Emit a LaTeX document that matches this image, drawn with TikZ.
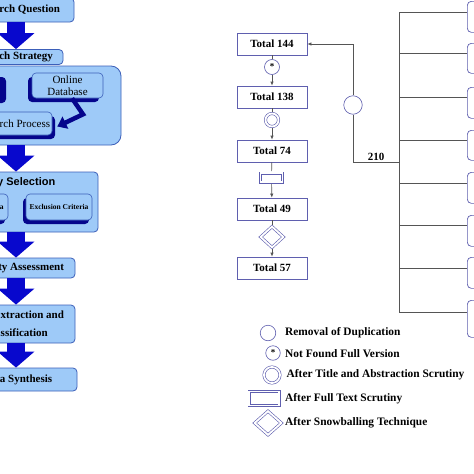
\documentclass[tikz,border=0pt]{standalone}
\usepackage{fontspec}
\setmainfont{Liberation Serif}
\newfontfamily\sansfont{Liberation Sans}
\usetikzlibrary{shapes.geometric, arrows.meta, shadows}
\definecolor{boxfill}{RGB}{158,202,248}
\definecolor{boxline}{RGB}{60,95,185}
\definecolor{fatblue}{RGB}{8,8,205}
\definecolor{darkshade}{RGB}{5,5,140}
\definecolor{flowline}{RGB}{95,95,175}
\definecolor{wire}{RGB}{85,85,85}

\begin{document}
\begin{tikzpicture}[
  x=1pt, y=-1pt,
  every node/.style={inner sep=0pt},
  stage/.style={draw=boxline, fill=boxfill, line width=0.8pt, rounded corners=4pt, align=center, font=\bfseries\fontsize{11}{18}\selectfont},
  subbox/.style={draw=boxline, fill=boxfill, line width=0.6pt, rounded corners=4pt, align=center, font=\fontsize{11}{12}\selectfont},
  boxshadow/.style={general shadow={fill=darkshade, shadow xshift=#1, shadow yshift=-4pt}},
  fatarrow/.style={fatblue, line width=18pt, -{Triangle[length=16pt,width=36pt]}},
  totalbox/.style={draw=flowline, fill=white, line width=0.7pt, minimum width=70pt, minimum height=22pt, font=\bfseries\fontsize{11}{13}\selectfont},
  flowsym/.style={draw=flowline, fill=white, line width=0.6pt},
  twin/.style={flowsym, double=white, double distance=1.8pt},
  refbox/.style={draw=flowline, line width=0.7pt, rounded corners=4pt, anchor=north west, minimum width=60pt},
  wire/.style={draw=wire, line width=0.7pt},
  flowtip/.style={-{Latex[length=4pt,width=3.5pt]}},
  legendtext/.style={anchor=west, font=\bfseries\fontsize{11.4}{13}\selectfont}
]
\useasboundingbox (0,0) rectangle (474,474);
\clip (0,0) rectangle (474,474);
\fill[white] (0,0) rectangle (474,474);

% review steps on the left
\node[stage, minimum width=116pt, minimum height=24pt] (question) at (16,10) {Research Question};
\node[stage, minimum width=95pt, minimum height=15pt] (strategy) at (15.5,57) {Search Strategy};
\node[stage, rounded corners=10pt, minimum width=231pt, minimum height=79pt] (area) at (5.5,105.5) {};
\node[subbox, boxshadow=7pt, minimum width=61pt, minimum height=26pt] (manual) at (-31.5,86) {};
\node[subbox, boxshadow=-4pt, minimum width=71pt, minimum height=25pt] (online) at (67.5,85.5) {Online\\Database};
\node[subbox, boxshadow=3pt, minimum width=70pt, minimum height=23pt] (process) at (17,123.5) {Search Process};
\draw[darkshade, line width=4.5pt, -{Triangle[length=9pt,width=13pt]}]
  ([xshift=4.5pt]online.south) -- ++(11,16) -- ([xshift=5pt,yshift=-3pt]process.east);

\node[stage, minimum width=168pt, minimum height=60pt] (selection) at (14,202) {};
\node[font=\sansfont\bfseries\fontsize{11}{13}\selectfont] (seltitle) at (14,183) {Study Selection};
\node[subbox, boxshadow=-3pt, font=\bfseries\fontsize{7.5}{9}\selectfont, minimum width=66pt, minimum height=26pt] (incl) at (-25,207) {Inclusion Criteria};
\node[subbox, boxshadow=-3pt, font=\bfseries\fontsize{7.5}{9}\selectfont, minimum width=66pt, minimum height=26pt] (excl) at (59,207) {Exclusion Criteria};

\node[stage, minimum width=114pt, minimum height=20pt] (quality) at (18,268) {Quality Assessment};
\node[stage, minimum width=118pt, minimum height=38pt] (extract) at (16,324) {Data Extraction and\\Classification};
\node[stage, minimum width=119pt, minimum height=23pt] (synth) at (17.5,379.5) {Data Synthesis};

\foreach \a/\b in {question/strategy, area/selection, selection/quality, quality/extract, extract/synth}
  \draw[fatarrow] (question.south |- \a.south) -- (question.south |- \b.north);

% counts in the middle
\foreach \y/\name in {44/144, 97/138, 151/74, 209/49, 268/57}
  \node[totalbox] (t\name) at (272,\y) {Total \name};
\node[flowsym, circle, minimum size=15pt, font=\bfseries\fontsize{9}{9}\selectfont] (s1) at (272,67) {\raisebox{-2.5pt}{*}};
\node[twin, circle, minimum size=13pt] (s2) at (272,120) {};
\node[twin, minimum width=22pt, minimum height=9pt] (s3) at (271.5,177.5) {};
\node[twin, diamond, minimum width=23pt, minimum height=21pt] (s4) at (272,237) {};
\draw[wire] (t144) -- (s1);
\draw[wire, flowtip] (s1) -- (t138);
\draw[wire, shorten >=1.5pt] (t138) -- (s2);
\draw[wire, flowtip, shorten <=1.5pt] (s2) -- (t74);
\draw[wire, shorten >=1.5pt] (t74) -- (s3);
\draw[wire, flowtip, shorten <=1.5pt] (s3) -- (t49);
\draw[wire, shorten >=1.5pt] (t49) -- (s4);
\draw[wire, flowtip, shorten <=1.5pt] (s4) -- (t57);

% sources on the right
\coordinate (fa) at (353,44);
\coordinate (fb) at (353,162);
\coordinate (hub) at (399,162);
\node[flowsym, circle, minimum size=18.5pt] (dup) at (353,105) {};
\draw[wire, flowtip] (fa) -- (t144);
\draw[wire] (fa) -- (dup);
\draw[wire] (dup) -- (fb) -- node[above=1.5pt, font=\bfseries\fontsize{11}{13}\selectfont] {210} (hub);
\foreach \i/\y/\t/\h in {1/12/1/31, 2/53/43/30, 3/97/87/31, 4/140/130/30, 5/183/172/31, 6/225/215/31, 7/268/257/31, 8/312/300/37}{
  \coordinate (k\i) at (399,\y);
  \node[refbox, minimum height=\h pt] (r\i) at (467,\t) {};
  \draw[wire] (k\i) -- (k\i -| r\i.west);
}
\draw[wire] (k1) -- (k8);

% legend
\node[flowsym, circle, minimum size=15.5pt] (l1) at (268,333) {};
\node[flowsym, circle, minimum size=14.5pt, font=\bfseries\fontsize{9}{9}\selectfont] (l2) at (273,353) {\raisebox{-2.5pt}{*}};
\node[twin, circle, minimum size=16pt] (l3) at (272,375) {};
\node[twin, minimum width=30pt, minimum height=14pt] (l4) at (264,398.5) {};
\node[twin, diamond, minimum width=27pt, minimum height=24pt] (l5) at (268,423) {};
\node[legendtext] (n1) at (285,333) {Removal of Duplication};
\node[legendtext] (n2) at (285,354) {Not Found Full Version};
\node[legendtext] (n3) at (286.5,375) {After Title and Abstraction Scrutiny};
\node[legendtext] (n4) at (285,399) {After Full Text Scrutiny};
\node[legendtext] (n5) at (285,423) {After Snowballing Technique};
\end{tikzpicture}
\end{document}
